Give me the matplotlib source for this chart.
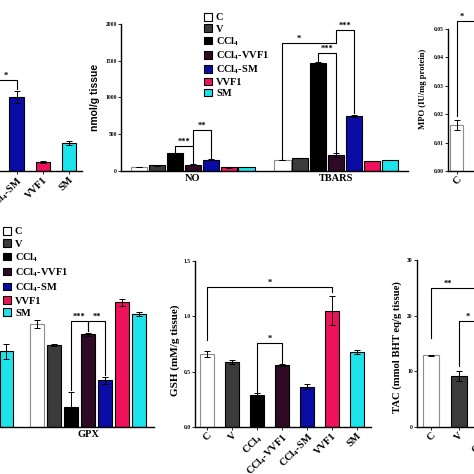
import matplotlib.pyplot as plt
from matplotlib.patches import Patch

plt.rcParams['font.family'] = ['Liberation Serif', 'DejaVu Serif']
plt.rcParams['font.weight'] = 'bold'
plt.rcParams['mathtext.fontset'] = 'custom'
plt.rcParams['mathtext.rm'] = 'Liberation Serif:bold'
plt.rcParams['mathtext.it'] = 'Liberation Serif:bold:italic'
plt.rcParams['mathtext.bf'] = 'Liberation Serif:bold'

# grupos experimentais
groups = ['C', 'V', 'CCl$_4$', 'CCl$_4$-VVF1', 'CCl$_4$-SM', 'VVF1', 'SM']
tick_names = ['C', 'V', 'CCl$_4$', 'CCl$_4$-VVF1', 'CCl$_4$-SM', 'VVF1', 'SM']
colors = ['white', '#3b3b3b', '#000000', '#2e0a24', '#0b0ba6', '#f0115c', '#1de3ea']
edges = ['#8c8c8c', 'black', 'black', 'black', 'black', 'black', 'black']

# painel superior esquerdo (cortado)
left_vals = [350, 360, 1150, 420, 1005, 122, 381]
left_err = [20, 20, 60, 30, 80, 12, 30]

# NO e TBARS (nmol/g tissue)
no_vals = [55, 80, 240, 86, 154, 50, 55]
no_err = [5, 6, 10, 8, 8, 4, 5]
tbars_vals = [150, 177, 1470, 218, 748, 136, 150]
tbars_err = [6, 6, 12, 22, 18, 5, 6]

# MPO (IU/mg protein)
mpo_vals = [0.0163, 0.018, 0.035, 0.02, 0.022, 0.015, 0.016]
mpo_err = [0.0018, 0.002, 0.003, 0.002, 0.002, 0.001, 0.001]

# painel inferior esquerdo: grupo anterior + GPX
prev_vals = [95, 80, 30, 70, 60, 85, 68]
prev_err = [4, 3, 5, 3, 3, 3, 7]
gpx_vals = [92.5, 73.7, 18, 83.3, 42, 112, 101.5]
gpx_err = [4, 1, 13.5, 1.5, 3, 3, 1.5]

# GSH (mM/g tissue)
gsh_vals = [0.66, 0.587, 0.29, 0.56, 0.365, 1.05, 0.68]
gsh_err = [0.03, 0.015, 0.015, 0.01, 0.025, 0.13, 0.02]

# TAC (mmol BHT eq/g tissue)
tac_vals = [12.9, 9.2, 5.0, 11.0, 10.0, 14.0, 13.0]
tac_err = [0.1, 0.9, 0.5, 0.5, 0.5, 0.5, 0.5]

W = H = 474
fig = plt.figure(figsize=(4.74, 4.74), dpi=100)


def px_axes(l, t, r, b):
    return fig.add_axes([l / W, 1 - b / H, (r - l) / W, (b - t) / H])


def style(ax):
    ax.spines[['top', 'right']].set_visible(False)
    ax.spines[['left', 'bottom']].set_linewidth(1.0)
    ax.tick_params(axis='y', length=2, width=0.6, labelsize=4, pad=1)
    ax.tick_params(axis='x', length=2, width=0.6, labelsize=7.5, pad=1)
    ax.patch.set_alpha(0)


def bars(ax, x, vals, err, width):
    ax.bar(x, vals, width=width, color=colors, edgecolor=edges, linewidth=0.8,
           yerr=err, error_kw=dict(elinewidth=0.7, capsize=2, capthick=0.7, ecolor='black'))


def bracket(ax, x1, x2, y, y1, y2, text, tx=None):
    ax.plot([x1, x1, x2, x2], [y1, y, y, y2], color='black', lw=0.8, clip_on=False)
    if tx is None:
        tx = (x1 + x2) / 2
    ax.text(tx, y, text, ha='center', va='bottom', fontsize=6, clip_on=False)


def rot_labels(ax, x):
    ax.set_xticks(x)
    ax.set_xticklabels(tick_names, rotation=45, ha='right', rotation_mode='anchor')


pos = list(range(7))

# --- painel superior esquerdo
ax = px_axes(-101, 24, 82, 171)
bars(ax, pos, left_vals, left_err, 0.55)
ax.set_xlim(-0.5, 6.5)
ax.set_ylim(0, 2000)
rot_labels(ax, pos)
style(ax)
bracket(ax, 3, 4, 1238, 500, 1120, '*', tx=3.6)

# --- NO / TBARS
ax = px_axes(121, 24, 408, 171)
pos_tb = [p + 8 for p in pos]
bars(ax, pos, no_vals, no_err, 0.9)
bars(ax, pos_tb, tbars_vals, tbars_err, 0.9)
ax.set_xlim(-1, 15)
ax.set_ylim(0, 2000)
ax.set_yticks([0, 500, 1000, 1500, 2000])
ax.set_xticks([3, 11])
ax.set_xticklabels(['NO', 'TBARS'])
style(ax)
ax.tick_params(axis='x', length=0, pad=2)
bracket(ax, 2, 3, 340, 265, 100, '***')
bracket(ax, 3, 4, 558, 340, 170, '**')
bracket(ax, 8, 11, 1741, 170, 1741, '*', tx=8.9)
bracket(ax, 10, 11, 1605, 1490, 250, '***')
bracket(ax, 11, 12, 1918, 1741, 790, '***')
handles = [Patch(facecolor=c, edgecolor=e, linewidth=0.8) for c, e in zip(colors, edges)]
handles[0].set_edgecolor('black')
fig.legend(handles, groups, loc='upper left', bbox_to_anchor=(204 / W, 1 - 13 / H),
           frameon=False, fontsize=7.5, handlelength=0.75, handleheight=0.75,
           handletextpad=0.4, labelspacing=0.16, borderpad=0, borderaxespad=0)
fig.text(95 / W, 1 - 97 / H, 'nmol/g tissue', rotation=90, ha='center', va='center',
         fontsize=7.5, family='Liberation Sans', weight='bold')

# --- MPO
ax = px_axes(448, 29, 619, 171)
bars(ax, pos, mpo_vals, mpo_err, 0.52)
ax.set_xlim(-0.34, 6.5)
ax.set_ylim(0, 0.05)
ax.set_yticks([0, 0.01, 0.02, 0.03, 0.04, 0.05])
ax.set_yticklabels(['0.00', '0.01', '0.02', '0.03', '0.04', '0.05'])
rot_labels(ax, pos)
style(ax)
bracket(ax, 0, 2, 0.0528, 0.0192, 0.04, '*', tx=0.22)
fig.text(423 / W, 1 - 89 / H, 'MPO (IU/mg protein)', rotation=90, ha='center', va='center',
         fontsize=6.2)

# --- grupo anterior + GPX
ax = px_axes(-110.6, 260, 154, 427)
pos_gpx = [p + 7.8 for p in pos]
bars(ax, pos, prev_vals, prev_err, 0.8)
bars(ax, pos_gpx, gpx_vals, gpx_err, 0.8)
ax.set_xlim(-0.88, 14.68)
ax.set_ylim(0, 150)
ax.set_xticks([3, 10.8])
ax.set_xticklabels(['SOD', 'GPX'])
style(ax)
ax.tick_params(axis='x', length=0, pad=2)
bracket(ax, 9.8, 10.8, 95.2, 33, 86, '***')
bracket(ax, 10.8, 11.8, 95.2, 86, 47, '**')
fig.legend(handles, groups, loc='upper left', bbox_to_anchor=(3 / W, 1 - 227 / H),
           frameon=False, fontsize=7.5, handlelength=0.75, handleheight=0.75,
           handletextpad=0.4, labelspacing=0.25, borderpad=0, borderaxespad=0)

# --- GSH
ax = px_axes(195, 261, 371, 427)
bars(ax, pos, gsh_vals, gsh_err, 0.56)
ax.set_xlim(-0.48, 6.56)
ax.set_ylim(0, 1.5)
ax.set_yticks([0, 0.5, 1.0, 1.5])
ax.set_yticklabels(['0.0', '0.5', '1.0', '1.5'])
rot_labels(ax, pos)
style(ax)
bracket(ax, 0, 5, 1.265, 0.786, 1.22, '*')
bracket(ax, 2, 3, 0.76, 0.32, 0.58, '*')
fig.text(175 / W, 1 - 350 / H, 'GSH (mM/g tissue)', rotation=90, ha='center', va='center',
         fontsize=8)

# --- TAC
ax = px_axes(417, 260, 610, 427)
bars(ax, pos, tac_vals, tac_err, 0.58)
ax.set_xlim(-0.51, 6.5)
ax.set_ylim(0, 30)
ax.set_yticks([0, 10, 20, 30])
rot_labels(ax, pos)
style(ax)
bracket(ax, 0, 2, 25, 16, 6, '**', tx=0.62)
bracket(ax, 1, 3, 19, 11, 12, '*', tx=1.35)
fig.text(397 / W, 1 - 347 / H, 'TAC (mmol BHT eq/g tissue)', rotation=90, ha='center',
         va='center', fontsize=7.7)

fig.savefig('out.png', dpi=100)
